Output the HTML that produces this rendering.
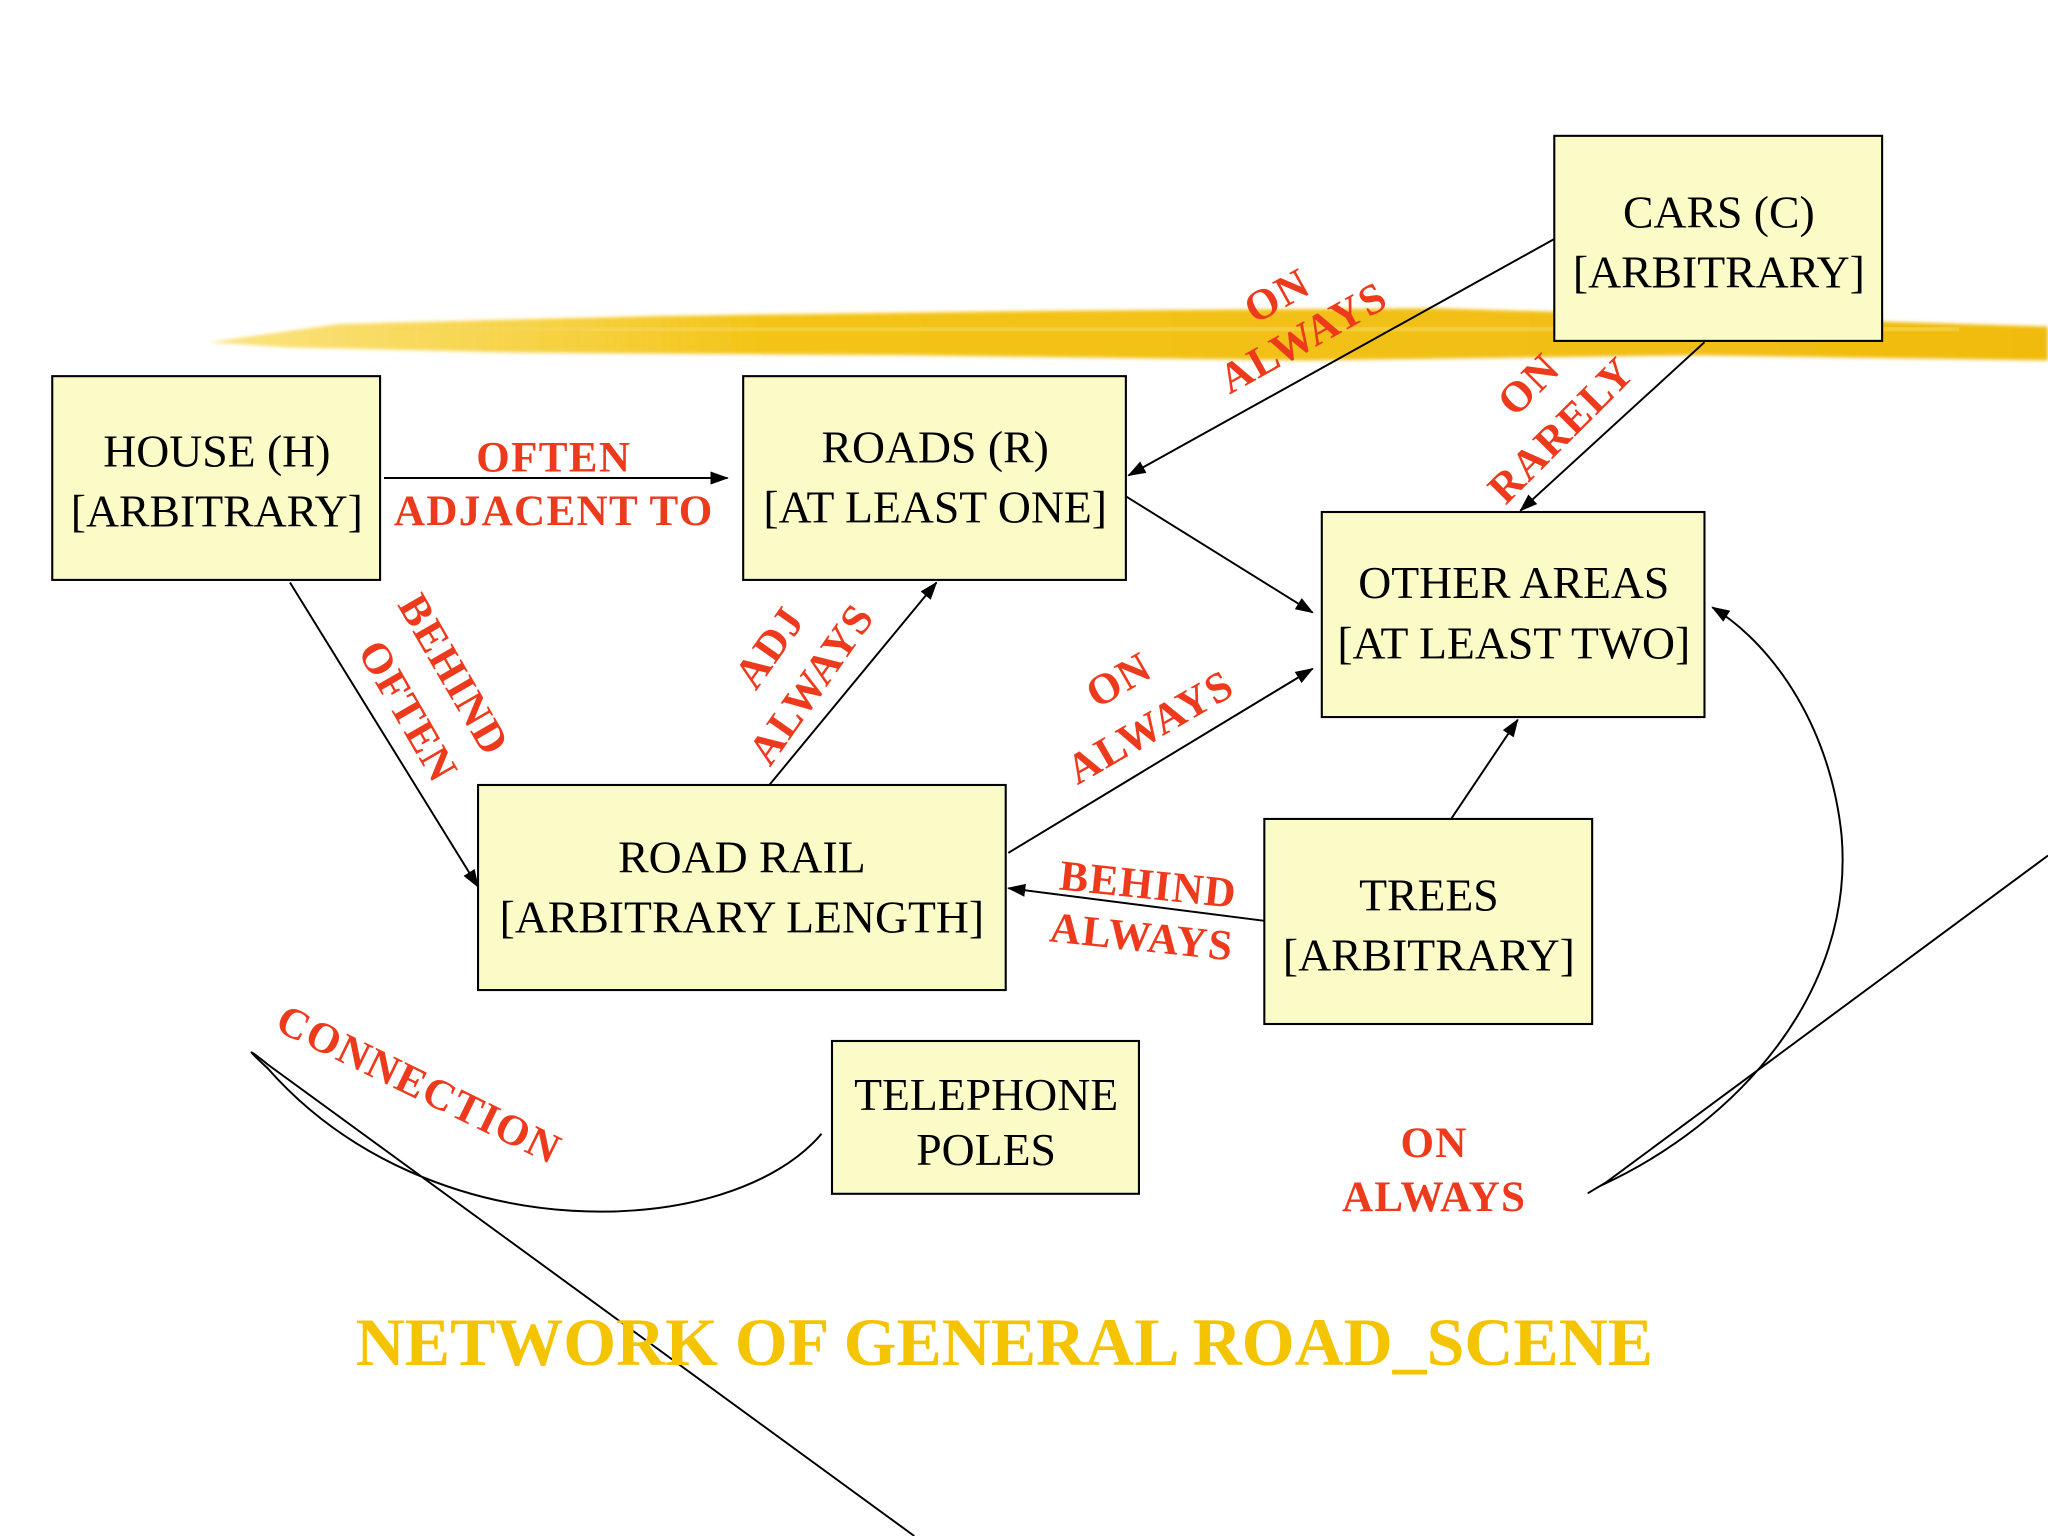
<!DOCTYPE html>
<html><head><meta charset="utf-8"><style>
html,body{margin:0;padding:0;background:#fff;}
svg{display:block;}
.bx{fill:#fbfbc8;stroke:#000;stroke-width:1.6;}
.t{font-family:"Liberation Serif",serif;font-size:35px;fill:#000;text-anchor:middle;}
.r{font-family:"Liberation Serif",serif;font-size:33px;letter-spacing:1px;font-weight:bold;fill:#ee3a1c;text-anchor:middle;}
.l{stroke:#000;stroke-width:1.5;fill:none;}
</style></head><body>
<svg width="2048" height="1536" viewBox="0 0 1568 1176" xmlns="http://www.w3.org/2000/svg">
<defs>
<marker id="a" markerWidth="14" markerHeight="10" refX="13" refY="5" orient="auto" markerUnits="userSpaceOnUse">
<path d="M0,0 L14,5 L0,10 z" fill="#000"/></marker>
<linearGradient id="g" x1="0" x2="1" y1="0" y2="0">
<stop offset="0" stop-color="#f8d84a" stop-opacity="0.7"/><stop offset="0.3" stop-color="#f3c417"/><stop offset="1" stop-color="#f0bb10"/></linearGradient>
<filter id="f"><feGaussianBlur stdDeviation="1.5"/></filter>
</defs>
<path d="M160,262 L260,248 L500,242 L800,238 L1100,236 L1568,250 L1568,276 L1300,272 L1000,276 L700,272 L400,270 L220,266 Z" fill="url(#g)" filter="url(#f)"/>
<path d="M300,252 L1500,252" stroke="#f6d75a" stroke-width="3" opacity="0.6"/>

<rect class="bx" x="1190" y="104" width="251" height="157"/>
<text class="t" x="1316" y="174">CARS (C)</text><text class="t" x="1316" y="220">[ARBITRARY]</text>
<rect class="bx" x="40" y="288" width="251" height="156"/>
<text class="t" x="166" y="357">HOUSE (H)</text><text class="t" x="166" y="403">[ARBITRARY]</text>
<rect class="bx" x="569" y="288" width="293" height="156"/>
<text class="t" x="716" y="354">ROADS (R)</text><text class="t" x="716" y="400">[AT LEAST ONE]</text>
<rect class="bx" x="1012" y="392" width="293" height="157"/>
<text class="t" x="1159" y="458">OTHER AREAS</text><text class="t" x="1159" y="504">[AT LEAST TWO]</text>
<rect class="bx" x="366" y="601" width="404" height="157"/>
<text class="t" x="568" y="668">ROAD RAIL</text><text class="t" x="568" y="714">[ARBITRARY LENGTH]</text>
<rect class="bx" x="968" y="627" width="251" height="157"/>
<text class="t" x="1094" y="697">TREES</text><text class="t" x="1094" y="743">[ARBITRARY]</text>
<rect class="bx" x="637" y="797" width="235" height="117"/>
<text class="t" x="755" y="850">TELEPHONE</text><text class="t" x="755" y="892">POLES</text>

<line class="l" x1="294" y1="366" x2="557" y2="366" marker-end="url(#a)"/>
<line class="l" x1="1190" y1="183" x2="864" y2="364" marker-end="url(#a)"/>
<line class="l" x1="1305" y1="262" x2="1164" y2="391" marker-end="url(#a)"/>
<line class="l" x1="862" y1="380" x2="1005" y2="469" marker-end="url(#a)"/>
<line class="l" x1="222" y1="446" x2="366" y2="679" marker-end="url(#a)"/>
<line class="l" x1="589" y1="601" x2="717" y2="446" marker-end="url(#a)"/>
<line class="l" x1="772" y1="653" x2="1005" y2="512" marker-end="url(#a)"/>
<line class="l" x1="968" y1="705" x2="772" y2="680" marker-end="url(#a)"/>
<line class="l" x1="1111" y1="627" x2="1162" y2="551" marker-end="url(#a)"/>
<path class="l" d="M1568,655 L1230,905 Q1205,920 1225,908 C1330,860 1420,760 1410,640 C1402,560 1360,495 1311,465" marker-end="url(#a)"/>
<path class="l" d="M629,868 C560,950 330,960 205,818 Q180,795 205,815 L700,1176"/>

<text class="r" x="424" y="361">OFTEN</text>
<text class="r" x="424" y="402">ADJACENT TO</text>
<text class="r" transform="translate(983,236) rotate(-29)">ON</text>
<text class="r" transform="translate(1003,268) rotate(-29)">ALWAYS</text>
<text class="r" transform="translate(1178,302) rotate(-45)">ON</text>
<text class="r" transform="translate(1203,337) rotate(-45)">RARELY</text>
<text class="r" transform="translate(338,522) rotate(60)">BEHIND</text>
<text class="r" transform="translate(303,550) rotate(60)">OFTEN</text>
<text class="r" transform="translate(598,502) rotate(-55)">ADJ</text>
<text class="r" transform="translate(630,530) rotate(-55)">ALWAYS</text>
<text class="r" transform="translate(862,530) rotate(-30)">ON</text>
<text class="r" transform="translate(886,566) rotate(-30)">ALWAYS</text>
<text class="r" transform="translate(878,688) rotate(6)">BEHIND</text>
<text class="r" transform="translate(873,728) rotate(6)">ALWAYS</text>
<text class="r" transform="translate(316,840) rotate(26)">CONNECTION</text>
<text class="r" x="1098" y="886">ON</text>
<text class="r" x="1098" y="927">ALWAYS</text>
<text x="769" y="1045" text-anchor="middle" style="font-family:'Liberation Serif',serif;font-weight:bold;font-size:52px;fill:#f5c400">NETWORK OF GENERAL ROAD_SCENE</text>
</svg>
</body></html>
